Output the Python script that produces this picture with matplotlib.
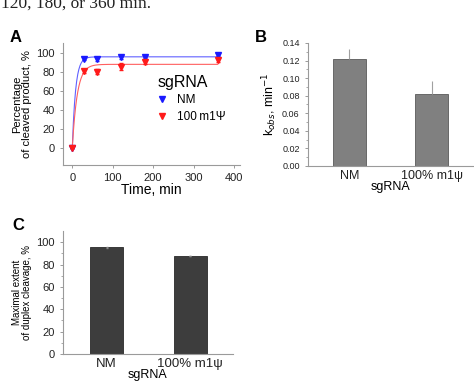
import numpy as np
import matplotlib
matplotlib.use("Agg")
import matplotlib.pyplot as plt
from matplotlib.lines import Line2D

# panel A: time course
time_min = [0, 30, 60, 120, 180, 360]
nm_pct = [0, 93, 93, 95, 95, 97]
nm_err = [0, 1, 1.5, 1.5, 1, 1]
m1_pct = [0, 81, 80, 85, 90, 92]
m1_err = [0, 2, 3, 3.5, 2, 1.5]

# panel B: kobs
groups = ["NM", "100% m1\u03c8"]
kobs = [0.122, 0.082]
kobs_err = [0.011, 0.015]

# panel C: max extent
max_ext = [95.5, 87.6]
max_err = [0.4, 0.4]

W, H = 474, 383
fig = plt.figure(figsize=(W / 100, H / 100), dpi=100)
plt.rcParams['font.family'] = ['Liberation Sans', 'DejaVu Sans']


def ax_px(x0, y0, x1, y1):
    # pixel box (top-left origin) -> axes
    return fig.add_axes([x0 / W, 1 - y1 / H, (x1 - x0) / W, (y1 - y0) / H])


def style(ax):
    for s in ['top', 'right']:
        ax.spines[s].set_visible(False)
    for s in ['left', 'bottom']:
        ax.spines[s].set_color('#9a9a9a')
        ax.spines[s].set_linewidth(0.8)
    ax.tick_params(colors='#9a9a9a', labelcolor='#222222', length=2.5, width=0.7)


fig.text(0.003, 1 - 8 / H, "120, 180, or 360 min.", family='Liberation Serif',
         fontsize=12.5, va='baseline', color='#222222')

# ---- A
axA = ax_px(63, 43, 240, 165)
style(axA)
t = np.linspace(0, 360, 400)
axA.plot(t, max_ext[0] * (1 - np.exp(-kobs[0] * t)), color='#6060ff', lw=0.8)
axA.plot(t, max_ext[1] * (1 - np.exp(-kobs[1] * t)), color='#ff6060', lw=0.8)
axA.errorbar(time_min, nm_pct, yerr=nm_err, fmt='v', color='#1a1aff', ms=4,
             capsize=1.5, elinewidth=0.7)
axA.errorbar(time_min, m1_pct, yerr=m1_err, fmt='v', color='#ff1a1a', ms=4,
             capsize=1.5, elinewidth=0.7)
axA.set_xlim(-23, 415)
axA.set_ylim(-18, 110)
axA.set_xticks([0, 100, 200, 300, 400])
axA.set_yticks([0, 20, 40, 60, 80, 100])
axA.tick_params(labelsize=8)
axA.set_xlabel("Time, min", fontsize=10, labelpad=0)
axA.set_ylabel("Percentage\nof cleaved product, %", fontsize=8, labelpad=3,
               linespacing=1.0)
handles = [Line2D([], [], ls='none', marker='v', color='#1a1aff', ms=4),
           Line2D([], [], ls='none', marker='v', color='#ff1a1a', ms=4)]
leg = axA.legend(handles, ['NM', '100\u2009m1\u03a8'], title="sgRNA",
                 loc='upper left', bbox_to_anchor=(0.50, 0.79),
                 frameon=False, fontsize=8.5, title_fontsize=11.5,
                 handletextpad=0.9, handlelength=0.8, borderpad=0,
                 labelspacing=0.4)
leg._legend_box.align = 'left'
fig.text(10 / W, 1 - 37 / H, "A", fontsize=12, fontweight='bold', va='center')

# ---- B
axB = ax_px(308, 43, 473, 166)
style(axB)
xb = np.arange(len(groups))
axB.bar(xb, kobs, width=0.4, color='#808080', edgecolor='#5a5a5a', lw=0.6)
axB.errorbar(xb, kobs, yerr=[[0, 0], kobs_err], fmt='none', ecolor='#a0a0a0',
             elinewidth=0.8, capsize=0)
axB.set_xlim(-0.5, 1.5)
axB.set_ylim(0, 0.14)
axB.set_yticks(np.arange(0, 0.141, 0.02))
axB.set_yticks(np.arange(0, 0.141, 0.01), minor=True)
axB.yaxis.set_major_formatter(matplotlib.ticker.FormatStrFormatter('%.2f'))
axB.set_xticks(xb)
axB.set_xticklabels(groups, fontsize=9)
axB.tick_params(axis='y', labelsize=6.5)
axB.tick_params(axis='y', which='minor', length=1.5, color='#9a9a9a')
axB.tick_params(axis='x', length=0, pad=3)
axB.set_xlabel("sgRNA", fontsize=9, labelpad=-1)
axB.set_ylabel("k$_{obs}$, min$^{-1}$", fontsize=9, labelpad=2)
fig.text(255 / W, 1 - 37 / H, "B", fontsize=12, fontweight='bold', va='center')

# ---- C
axC = ax_px(63, 231, 233, 354)
style(axC)
axC.bar(xb, max_ext, width=0.4, color='#3d3d3d', edgecolor='#2a2a2a', lw=0.6)
axC.errorbar(xb, max_ext, yerr=max_err, fmt='none', ecolor='#888888',
             elinewidth=0.6, capsize=1)
axC.set_xlim(-0.52, 1.51)
axC.set_ylim(0, 110)
axC.set_yticks([0, 20, 40, 60, 80, 100])
axC.set_yticks(np.arange(0, 110, 10), minor=True)
axC.set_xticks(xb)
axC.set_xticklabels(groups, fontsize=9.5)
axC.tick_params(axis='y', labelsize=8)
axC.tick_params(axis='y', which='minor', length=1.5, color='#9a9a9a')
axC.tick_params(axis='x', length=0, pad=3)
axC.set_xlabel("sgRNA", fontsize=9, labelpad=-1)
axC.set_ylabel("Maximal extent\nof duplex cleavage, %", fontsize=7, labelpad=3,
               linespacing=1.0)
fig.text(12 / W, 1 - 225 / H, "C", fontsize=12, fontweight='bold', va='center')

fig.savefig("out.png", dpi=100)
